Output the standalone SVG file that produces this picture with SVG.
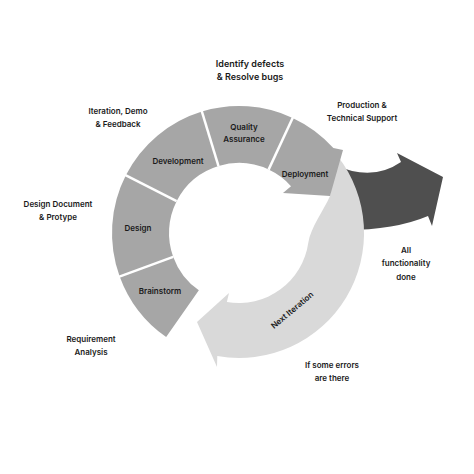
<svg xmlns="http://www.w3.org/2000/svg" width="474" height="474" viewBox="0 0 474 474">
<style>
text{font-family:Inter,"Liberation Sans",Arial,sans-serif;font-size:8px;font-weight:600;fill:#1a1a1a;text-anchor:middle}
.seg{fill:#a6a6a6}
.div{stroke:#fff;stroke-width:2.5;fill:none}
.light{fill:#d9d9d9}
.dark{fill:#4f4f4f}
.big{font-size:9px}
</style>
<rect width="474" height="474" fill="#fff"/>
<g id="connectors">
<path id="done-arrow" class="dark" d="M335,165 Q372,182 401,162 L397,153 L443,177 L432,226 L428,216 Q395,230 345,230 Z"/>
<path id="next-iteration-arrow" class="light" d="M337.5,156 L330,196 C324,210 310.4,227.9 308.3,242.7 A70 70 0 0 1 226.85,301.94 L229,293 L197,322 L217,367 L217.29,356.1 A125 125 0 0 0 337.5,156 Z"/>
<text transform="translate(292,310) rotate(-40)" y="3">Next Iteration</text>
</g>
<g id="brainstorm">
<path class="seg" d="M166.15,337.04 A127 127 0 0 1 119.66,276.43 L173.22,256.94 A70 70 0 0 0 198.85,290.34 Z"/>
<text x="160" y="294">Brainstorm</text>
</g>
<g id="design">
<path class="seg" d="M119.66,276.43 A127 127 0 0 1 125.84,175.34 L176.63,201.22 A70 70 0 0 0 173.22,256.94 Z"/>
<text x="138" y="231">Design</text>
</g>
<g id="development">
<path class="seg" d="M125.84,175.34 A127 127 0 0 1 201.87,111.55 L218.53,166.06 A70 70 0 0 0 176.63,201.22 Z"/>
<text x="178" y="164">Development</text>
</g>
<g id="quality-assurance">
<path class="seg" d="M201.87,111.55 A127 127 0 0 1 292.67,117.9 L268.58,169.56 A70 70 0 0 0 218.53,166.06 Z"/>
<text x="244" y="130">Quality</text>
<text x="244" y="142">Assurance</text>
</g>
<g id="deployment">
<path class="seg" d="M292.67,117.9 A127 127 0 0 1 333.38,148.02 L343,150 L330,196 L283,193 L291.02,186.16 A70 70 0 0 0 268.58,169.56 Z"/>
<text x="305" y="177">Deployment</text>
</g>
<g id="dividers">
<line class="div" x1="173.2" y1="256.9" x2="118.7" y2="276.8"/>
<line class="div" x1="176.6" y1="201.2" x2="125" y2="174.9"/>
<line class="div" x1="218.5" y1="166.1" x2="201.6" y2="110.6"/>
<line class="div" x1="268.6" y1="169.6" x2="293.1" y2="117"/>
</g>
<g id="label-identify">
<text class="big" x="250" y="67">Identify defects</text>
<text class="big" x="250" y="80">&amp; Resolve bugs</text>
</g>
<g id="label-iteration">
<text x="118" y="114">Iteration, Demo</text>
<text x="118" y="127">&amp; Feedback</text>
</g>
<g id="label-production">
<text x="362" y="108">Production &amp;</text>
<text x="362" y="121">Technical Support</text>
</g>
<g id="label-design-doc">
<text x="58" y="207">Design Document</text>
<text x="58" y="220">&amp; Protype</text>
</g>
<g id="label-requirement">
<text x="91" y="342">Requirement</text>
<text x="91" y="355">Analysis</text>
</g>
<g id="label-all-done">
<text x="406" y="253">All</text>
<text x="406" y="266">functionality</text>
<text x="406" y="280">done</text>
</g>
<g id="label-errors">
<text x="332" y="368">If some errors</text>
<text x="332" y="381">are there</text>
</g>
</svg>
